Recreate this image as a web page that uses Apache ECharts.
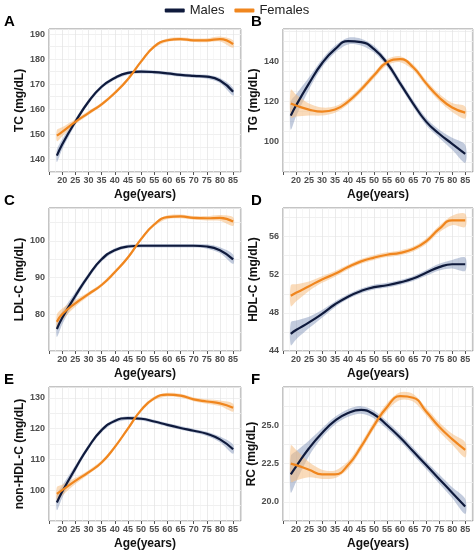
<!DOCTYPE html>
<html>
<head>
<meta charset="utf-8">
<script src="https://cdn.jsdelivr.net/npm/echarts@6/dist/echarts.min.js"></script>
<style>
  html, body { margin: 0; padding: 0; background: #fff; }
  #main { width: 474px; height: 551px; }
</style>
</head>
<body>
<div id="main"></div>
<script>
var ages = [18, 20, 25, 30, 35, 40, 45, 50, 55, 60, 65, 70, 75, 80, 85];

// A - TC
var tcMale   = [141.5, 146, 155, 163, 169, 172.5, 174.5, 175, 174.8, 174.3, 173.7, 173.3, 173, 171.5, 167];
var tcMaleSe = [2.5, 2, 1.2, 0.9, 0.8, 0.7, 0.7, 0.7, 0.7, 0.7, 0.7, 0.7, 0.8, 1, 1.6];
var tcFem    = [149.5, 151, 155, 158.5, 162, 166.5, 172, 179, 185, 187.5, 188, 187.5, 187.5, 188, 186];
var tcFemSe  = [2.2, 1.8, 1, 0.8, 0.7, 0.7, 0.7, 0.7, 0.7, 0.7, 0.7, 0.7, 0.8, 1, 1.5];
// B - TG
var tgMale   = [113, 118, 129, 139, 146, 150, 149.5, 146, 139, 129, 119, 110, 104, 99, 94];
var tgMaleSe = [7, 5.5, 3, 2, 1.8, 1.7, 1.7, 1.7, 1.7, 1.7, 1.7, 1.8, 2, 3, 4.5];
var tgFem    = [119, 118, 116, 115, 116, 120, 126, 133, 139.5, 141, 137, 129, 122, 117, 114.5];
var tgFemSe  = [7, 5.5, 3, 2, 1.6, 1.5, 1.5, 1.5, 1.5, 1.5, 1.5, 1.6, 1.8, 2.2, 3];
// C - LDL-C
var ldlMale   = [76, 79, 85, 90.5, 95, 97.5, 98.5, 98.7, 98.7, 98.7, 98.7, 98.7, 98.5, 97.5, 95];
var ldlMaleSe = [2.2, 1.8, 1, 0.7, 0.6, 0.5, 0.5, 0.5, 0.5, 0.5, 0.5, 0.5, 0.6, 0.8, 1.3];
var ldlFem    = [78, 80, 83, 85.5, 88, 91.5, 95.5, 100.5, 104.5, 106.5, 106.7, 106.3, 106.2, 106.3, 105.3];
var ldlFemSe  = [2, 1.6, 0.9, 0.6, 0.5, 0.5, 0.5, 0.5, 0.5, 0.5, 0.5, 0.5, 0.6, 0.8, 1.2];
// D - HDL-C
var hdlMale   = [45.8, 46.2, 47, 47.9, 48.9, 49.7, 50.3, 50.7, 50.9, 51.2, 51.6, 52.2, 52.8, 53.1, 53.1];
var hdlMaleSe = [1.2, 1, 0.6, 0.4, 0.3, 0.25, 0.25, 0.25, 0.25, 0.25, 0.25, 0.3, 0.35, 0.45, 0.7];
var hdlFem    = [49.8, 50.1, 50.8, 51.5, 52.1, 52.8, 53.4, 53.8, 54.1, 54.3, 54.7, 55.5, 56.8, 57.7, 57.7];
var hdlFemSe  = [1.1, 0.9, 0.5, 0.35, 0.3, 0.25, 0.25, 0.25, 0.25, 0.25, 0.25, 0.3, 0.35, 0.5, 0.7];
// E - non-HDL-C
var nhdlMale   = [96, 99.5, 107, 114, 119.5, 122.5, 123.4, 123.2, 122.3, 121.2, 120.2, 119.3, 118.3, 116.5, 113.3];
var nhdlMaleSe = [2.5, 2, 1.1, 0.8, 0.7, 0.6, 0.6, 0.6, 0.6, 0.6, 0.6, 0.6, 0.7, 0.9, 1.5];
var nhdlFem    = [98.8, 100, 103, 105.8, 109, 114, 120, 126, 129.8, 131, 130.7, 129.5, 128.8, 128.2, 126.8];
var nhdlFemSe  = [2.2, 1.8, 1, 0.7, 0.6, 0.6, 0.6, 0.6, 0.6, 0.6, 0.6, 0.6, 0.7, 0.9, 1.3];
// F - RC
var rcMale   = [21.8, 22.3, 23.5, 24.5, 25.3, 25.8, 26, 25.7, 25, 24.2, 23.3, 22.4, 21.5, 20.6, 19.7];
var rcMaleSe = [1.2, 1, 0.5, 0.3, 0.25, 0.25, 0.25, 0.25, 0.25, 0.25, 0.25, 0.25, 0.3, 0.35, 0.5];
var rcFem    = [22.5, 22.4, 22.1, 21.8, 21.8, 22.4, 23.6, 25, 26.2, 26.9, 26.8, 25.9, 24.9, 24.1, 23.4];
var rcFemSe  = [1.2, 1, 0.5, 0.3, 0.25, 0.25, 0.25, 0.25, 0.25, 0.25, 0.25, 0.25, 0.3, 0.35, 0.5];

var panels = [
  { letter: 'A', name: 'TC (mg/dL)', m: tcMale, ms: tcMaleSe, f: tcFem, fs: tcFemSe, min: 135, max: 192, step: 5, lab: 10 },
  { letter: 'B', name: 'TG (mg/dL)', m: tgMale, ms: tgMaleSe, f: tgFem, fs: tgFemSe, min: 85, max: 156, step: 5, lab: 20 },
  { letter: 'C', name: 'LDL-C (mg/dL)', m: ldlMale, ms: ldlMaleSe, f: ldlFem, fs: ldlFemSe, min: 70, max: 109, step: 5, lab: 10, hideBelow: 80 },
  { letter: 'D', name: 'HDL-C (mg/dL)', m: hdlMale, ms: hdlMaleSe, f: hdlFem, fs: hdlFemSe, min: 44, max: 59, step: 2, lab: 4 },
  { letter: 'E', name: 'non-HDL-C (mg/dL)', m: nhdlMale, ms: nhdlMaleSe, f: nhdlFem, fs: nhdlFemSe, min: 90, max: 133.5, step: 5, lab: 10, hideBelow: 100 },
  { letter: 'F', name: 'RC (mg/dL)', m: rcMale, ms: rcMaleSe, f: rcFem, fs: rcFemSe, min: 18.75, max: 27.5, step: 1.25, lab: 2.5, hideBelow: 20, dec: 1 }
];

var MALE = '#0f1a3c', MALE_BAND = 'rgba(120,140,180,0.45)';
var FEM = '#f0861e', FEM_BAND = 'rgba(246,190,130,0.55)';
var tops = [29, 208, 387];
var lefts = [49, 283];

var grids = [], xAxes = [], yAxes = [], series = [], graphics = [];

// confidence band as one smoothed polygon placed through the axes
function bandSeries(i, vals, se, color) {
  return {
    type: 'custom', xAxisIndex: i, yAxisIndex: i, silent: true, z: 1,
    data: [[ages[0], vals[0]]],
    renderItem: function (params, api) {
      var upper = ages.map(function (a, j) { return api.coord([a, vals[j] + se[j]]); });
      var lower = ages.map(function (a, j) { return api.coord([a, vals[j] - se[j]]); }).reverse();
      return {
        type: 'group',
        children: [{
          type: 'polygon',
          shape: { points: upper.concat(lower), smooth: 0.3 },
          style: { fill: color }
        }]
      };
    }
  };
}

panels.forEach(function (p, i) {
  var col = i % 2, row = Math.floor(i / 2);
  grids.push({ left: lefts[col], top: tops[row], width: col ? 190 : 192, height: 143,
    show: true, borderColor: '#8a8a8a', borderWidth: 1 });
  xAxes.push({
    type: 'value', gridIndex: i, min: 15, max: 88, interval: 5,
    name: 'Age(years)', nameLocation: 'middle', nameGap: 17,
    nameTextStyle: { fontWeight: 'bold', fontSize: 12, color: '#111' },
    axisLine: { show: false },
    axisTick: { show: true, length: 3, lineStyle: { color: '#555' } },
    axisLabel: { fontSize: 9, fontWeight: 'bold', color: '#4d4d4d', margin: 4, showMaxLabel: false,
      formatter: function (v) { return v >= 20 ? v : ''; } },
    splitLine: { lineStyle: { color: '#e6e6e6', width: 0.8 } },
    minorTick: { show: false, splitNumber: 2 },
    minorSplitLine: { show: true, lineStyle: { color: '#f2f2f2', width: 0.6 } }
  });
  yAxes.push({
    type: 'value', gridIndex: i, min: p.min, max: p.max, interval: p.step,
    name: p.name, nameLocation: 'middle', nameGap: 23, nameRotate: 90,
    nameTextStyle: { fontWeight: 'bold', fontSize: 12, color: '#111' },
    axisLine: { show: false },
    axisTick: { show: false },
    axisLabel: { fontSize: 9, fontWeight: 'bold', color: '#4d4d4d', margin: 4, showMaxLabel: false,
      formatter: function (v) {
        var r = Math.round(v * 100) / 100;
        if (Math.abs(r / p.lab - Math.round(r / p.lab)) > 1e-6) return '';
        if (p.hideBelow && r < p.hideBelow) return '';
        return p.dec ? r.toFixed(p.dec) : r;
      } },
    splitLine: { lineStyle: { color: '#ececec', width: 0.8 } }
  });
  graphics.push({ type: 'text', left: col ? 251 : 4, top: tops[row] - 15,
    style: { text: p.letter, font: 'bold 15px Liberation Sans, Arial', fill: '#000' } });

  series.push(bandSeries(i, p.m, p.ms, MALE_BAND));
  series.push(bandSeries(i, p.f, p.fs, FEM_BAND));
  [[p.m, MALE, 'Males'], [p.f, FEM, 'Females']].forEach(function (s) {
    series.push({
      name: s[2], type: 'line', xAxisIndex: i, yAxisIndex: i, smooth: true, symbol: 'none', z: 3,
      lineStyle: { color: s[1], width: 2.2 }, itemStyle: { color: s[1] },
      data: ages.map(function (a, j) { return [a, s[0][j]]; })
    });
  });
});

var myChart = echarts.init(document.getElementById('main'));
myChart.setOption({
  animation: false,
  textStyle: { fontFamily: 'Liberation Sans, Arial, sans-serif' },
  legend: {
    data: ['Males', 'Females'], top: -1, left: 'center', icon: 'roundRect',
    itemWidth: 20, itemHeight: 4, itemGap: 10,
    textStyle: { fontSize: 13, color: '#222' }
  },
  grid: grids, xAxis: xAxes, yAxis: yAxes, series: series, graphic: graphics
});
</script>
</body>
</html>
